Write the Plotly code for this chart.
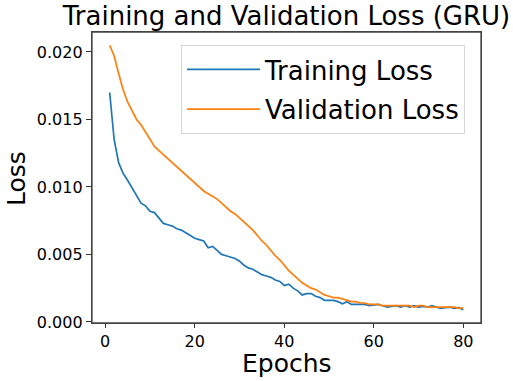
import plotly.graph_objects as go

epochs = list(range(1, 81))

training_loss = [
    0.0170, 0.0135, 0.0118, 0.0110, 0.0105, 0.0099, 0.0094, 0.0088, 0.0086, 0.0082,
    0.0081, 0.0077, 0.0073, 0.0072, 0.0071, 0.0069, 0.0068, 0.0066, 0.0064, 0.0062,
    0.0061, 0.0060, 0.0055, 0.0056, 0.0053, 0.0050, 0.0049, 0.0048, 0.0047, 0.0045,
    0.0042, 0.0040, 0.0039, 0.0037, 0.0035, 0.0034, 0.0033, 0.0031, 0.0030, 0.0027,
    0.0028, 0.0025, 0.0023, 0.0020, 0.0021, 0.0021, 0.0019, 0.0018, 0.0016, 0.0016,
    0.0016, 0.0015, 0.00135, 0.0015, 0.0013, 0.0013, 0.0013, 0.0013, 0.0012, 0.00125,
    0.0013, 0.0012, 0.0011, 0.00115, 0.0012, 0.0011, 0.0012, 0.0011, 0.0012, 0.0011,
    0.00115, 0.0011, 0.0012, 0.0011, 0.0010, 0.00105, 0.0011, 0.0010, 0.00105, 0.0009,
]

validation_loss = [
    0.0205, 0.0197, 0.0184, 0.0172, 0.0163, 0.0156, 0.0150, 0.0146, 0.0141, 0.0135,
    0.0130, 0.0127, 0.0124, 0.0121, 0.0118, 0.0115, 0.0112, 0.0109, 0.0106, 0.0103,
    0.0100, 0.0097, 0.0095, 0.0093, 0.0091, 0.0088, 0.0085, 0.0082, 0.0080, 0.0077,
    0.0074, 0.0071, 0.0068, 0.0064, 0.0060, 0.0057, 0.0053, 0.0049, 0.0046, 0.0042,
    0.0038, 0.0035, 0.0032, 0.0029, 0.0027, 0.0025, 0.0024, 0.0022, 0.0020, 0.0019,
    0.0018, 0.0018, 0.0017, 0.0016, 0.0015, 0.0015, 0.0014, 0.0014, 0.0013, 0.0013,
    0.0013, 0.0012, 0.0012, 0.0012, 0.0012, 0.0012, 0.0012, 0.0012, 0.0011, 0.0012,
    0.0012, 0.0011, 0.0011, 0.0011, 0.0011, 0.0011, 0.0011, 0.0011, 0.0010, 0.00105,
]

x_ticks = [0, 20, 40, 60, 80]
y_ticks = [0.000, 0.005, 0.010, 0.015, 0.020]

FONT = "DejaVu Sans"
W, H = 513, 381
L, R, T, B = 92, 32, 32, 58

fig = go.Figure()
fig.add_trace(go.Scatter(x=epochs, y=training_loss, mode="lines", name="Training Loss",
                         line=dict(color="#1f77b4", width=1.7), legendgroup="a"))
fig.add_trace(go.Scatter(x=epochs, y=validation_loss, mode="lines", name="Validation Loss",
                         line=dict(color="#ff7f0e", width=1.7), legendgroup="b"))

pw, ph = W - L - R, H - T - B

fig.update_layout(
    width=W, height=H,
    margin=dict(l=L, r=R, t=T, b=B, autoexpand=False),
    paper_bgcolor="white", plot_bgcolor="white",
    font=dict(family=FONT, color="black"),
    title=dict(text="Training and Validation Loss (GRU)", x=0.5585, xanchor="center",
               y=1 - 16 / H, yanchor="middle", font=dict(size=26, family=FONT, color="black")),
    showlegend=True,
    legend=dict(x=(465 - L) / pw, y=(H - B - 45) / ph, xanchor="right", yanchor="top",
                bgcolor="white", bordercolor="#d6d6d6", borderwidth=1,
                font=dict(size=26, family=FONT, color="black"),
                itemwidth=73, tracegroupgap=3),
    xaxis=dict(range=[-2.95, 83.95], tickvals=x_ticks, ticks="outside", ticklen=4,
               tickcolor="#333", tickwidth=1, showline=True, linecolor="#444", linewidth=1.3,
               mirror=True, showgrid=False, zeroline=False, automargin=False,
               tickfont=dict(size=16, family=FONT, color="black")),
    yaxis=dict(range=[-0.00008, 0.02148], tickvals=y_ticks, tickformat=".3f", ticks="outside",
               ticklen=5, tickcolor="#333", tickwidth=1, showline=True, linecolor="#444",
               linewidth=1.3, mirror=True, showgrid=False, zeroline=False, automargin=False,
               tickfont=dict(size=16, family=FONT, color="black")),
    shapes=[dict(type="rect", xref="paper", yref="paper", x0=0, y0=0, x1=1, y1=1,
                 line=dict(color="#444", width=1.3), layer="above")],
    annotations=[
        dict(text="Epochs", xref="paper", yref="paper", x=0.5, y=-(348 - (H - B)) / ph,
             xanchor="center", yanchor="top", showarrow=False, borderpad=0,
             font=dict(size=25, family=FONT, color="black")),
        dict(text="Loss", xref="paper", yref="paper", x=-(L - 16) / pw, y=(H - B - 179) / ph,
             xanchor="center", yanchor="middle", textangle=-90, showarrow=False,
             font=dict(size=25, family=FONT, color="black")),
    ],
)

fig.write_html("out.html", config={"displayModeBar": False},
               post_script="document.body.style.margin='0';")
